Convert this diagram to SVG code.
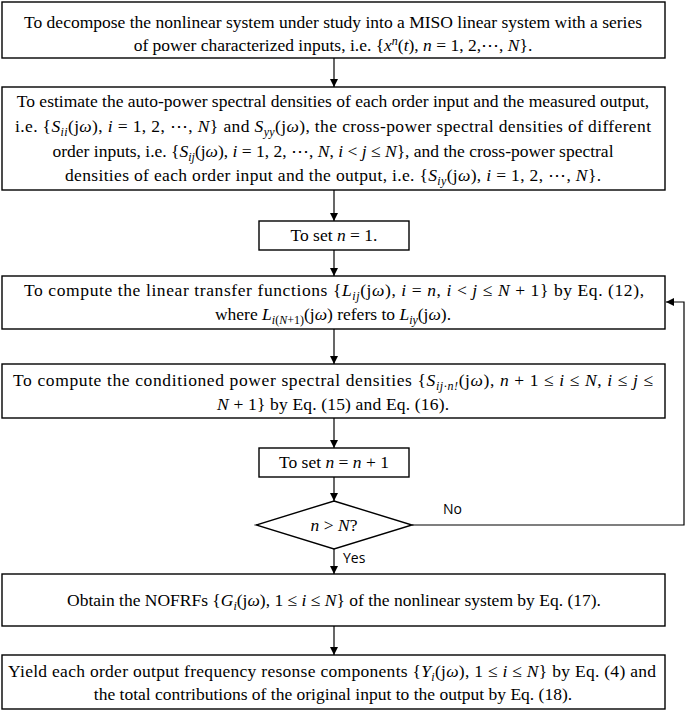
<svg xmlns="http://www.w3.org/2000/svg" width="685" height="711" viewBox="0 0 685 711">
<style>
.box{fill:#fff;stroke:#000;stroke-width:1.4}
.t{font-family:"Liberation Serif","Times New Roman",serif;font-size:17.5px;text-anchor:middle;fill:#000}
.m{font-style:italic}
.s{font-size:12px}
.lab{font-family:"Open Sans","Liberation Sans",sans-serif;font-size:14px;fill:#000}
.c{fill:none;stroke:#000;stroke-width:1.2}
</style>
<defs>
<marker id="ah" viewBox="0 0 10 10" refX="10" refY="5" markerWidth="8" markerHeight="8" markerUnits="userSpaceOnUse" orient="auto">
<path d="M0,0 L10,5 L0,10 z" fill="#000"/>
</marker>
</defs>
<g id="connectors">
<line class="c" x1="334" y1="58" x2="334" y2="87" marker-end="url(#ah)"/>
<line class="c" x1="334" y1="190" x2="334" y2="221" marker-end="url(#ah)"/>
<line class="c" x1="334" y1="250" x2="334" y2="276" marker-end="url(#ah)"/>
<line class="c" x1="334" y1="329" x2="334" y2="364" marker-end="url(#ah)"/>
<line class="c" x1="334" y1="418" x2="334" y2="448" marker-end="url(#ah)"/>
<line class="c" x1="334" y1="477" x2="334" y2="501" marker-end="url(#ah)"/>
<line class="c" x1="334" y1="549" x2="334" y2="574" marker-end="url(#ah)"/>
<line class="c" x1="334" y1="626" x2="334" y2="655" marker-end="url(#ah)"/>
<polyline class="c" points="412,525 684,525 684,302 666,302" marker-end="url(#ah)"/>
<text class="lab" x="443" y="514">No</text>
<text class="lab" x="343" y="563">Yes</text>
</g>
<g id="n1">
<rect class="box" x="2" y="2" width="663" height="56"/>
<text class="t" x="333" y="28">To decompose the nonlinear system under study into a MISO linear system with a series</text>
<text class="t" x="333" y="51">of power characterized inputs, i.e. {<tspan class="m">x</tspan><tspan class="m s" dy="-6">n</tspan><tspan dy="6">(</tspan><tspan class="m">t</tspan>), <tspan class="m">n</tspan> = 1, 2,⋯, <tspan class="m">N</tspan>}.</text>
</g>
<g id="n2">
<rect class="box" x="2" y="87" width="663" height="103"/>
<text class="t" x="333" y="107">To estimate the auto-power spectral densities of each order input and the measured output,</text>
<text class="t" x="333" y="132" textLength="636" lengthAdjust="spacing">i.e. {<tspan class="m">S</tspan><tspan class="m s" dy="4">ii</tspan><tspan dy="-4">(j</tspan><tspan class="m">ω</tspan>), <tspan class="m">i</tspan> = 1, 2, ⋯, <tspan class="m">N</tspan>} and <tspan class="m">S</tspan><tspan class="m s" dy="4">yy</tspan><tspan dy="-4">(j</tspan><tspan class="m">ω</tspan>), the cross-power spectral densities of different</text>
<text class="t" x="333" y="157">order inputs, i.e. {<tspan class="m">S</tspan><tspan class="m s" dy="4">ij</tspan><tspan dy="-4">(j</tspan><tspan class="m">ω</tspan>), <tspan class="m">i</tspan> = 1, 2, ⋯, <tspan class="m">N</tspan>, <tspan class="m">i</tspan> &lt; <tspan class="m">j</tspan> ≤ <tspan class="m">N</tspan>}, and the cross-power spectral</text>
<text class="t" x="333" y="181" textLength="536" lengthAdjust="spacing">densities of each order input and the output, i.e. {<tspan class="m">S</tspan><tspan class="m s" dy="4">iy</tspan><tspan dy="-4">(j</tspan><tspan class="m">ω</tspan>), <tspan class="m">i</tspan> = 1, 2, ⋯, <tspan class="m">N</tspan>}.</text>
</g>
<g id="n3">
<rect class="box" x="259" y="221" width="150" height="29"/>
<text class="t" x="334" y="241">To set <tspan class="m">n</tspan> = 1.</text>
</g>
<g id="n4">
<rect class="box" x="2" y="276" width="663" height="53"/>
<text class="t" x="334" y="296" textLength="620" lengthAdjust="spacing">To compute the linear transfer functions {<tspan class="m">L</tspan><tspan class="m s" dy="4">ij</tspan><tspan dy="-4">(j</tspan><tspan class="m">ω</tspan>),  <tspan class="m">i</tspan> = <tspan class="m">n</tspan>,  <tspan class="m">i</tspan> &lt; <tspan class="m">j</tspan> ≤ <tspan class="m">N</tspan> + 1} by Eq. (12),</text>
<text class="t" x="333" y="320">where <tspan class="m">L</tspan><tspan class="m s" dy="4">i</tspan><tspan class="s">(</tspan><tspan class="m s">N</tspan><tspan class="s">+1)</tspan><tspan dy="-4">(j</tspan><tspan class="m">ω</tspan>) refers to <tspan class="m">L</tspan><tspan class="m s" dy="4">iy</tspan><tspan dy="-4">(j</tspan><tspan class="m">ω</tspan>).</text>
</g>
<g id="n5">
<rect class="box" x="2" y="364" width="663" height="54"/>
<text class="t" x="333" y="386" textLength="640" lengthAdjust="spacing">To compute the conditioned power spectral densities  {<tspan class="m">S</tspan><tspan class="m s" dy="4">ij·n!</tspan><tspan dy="-4">(j</tspan><tspan class="m">ω</tspan>), <tspan class="m">n</tspan> + 1 ≤ <tspan class="m">i</tspan> ≤ <tspan class="m">N</tspan>, <tspan class="m">i</tspan> ≤ <tspan class="m">j</tspan> ≤</text>
<text class="t" x="333" y="410" textLength="232" lengthAdjust="spacing"><tspan class="m">N</tspan> + 1} by Eq. (15) and Eq. (16).</text>
</g>
<g id="n6">
<rect class="box" x="259" y="448" width="150" height="29"/>
<text class="t" x="334" y="468">To set <tspan class="m">n</tspan> = <tspan class="m">n</tspan> + 1</text>
</g>
<g id="n7">
<polygon class="box" points="334,501 412,525 334,549 256,525"/>
<text class="t" x="334" y="531"><tspan class="m">n</tspan> &gt; <tspan class="m">N</tspan>?</text>
</g>
<g id="n8">
<rect class="box" x="2" y="574" width="663" height="52"/>
<text class="t" x="334" y="606">Obtain the NOFRFs {<tspan class="m">G</tspan><tspan class="m s" dy="4">i</tspan><tspan dy="-4">(j</tspan><tspan class="m">ω</tspan>), 1 ≤ <tspan class="m">i</tspan> ≤ <tspan class="m">N</tspan>} of the nonlinear system by Eq. (17).</text>
</g>
<g id="n9">
<rect class="box" x="2" y="655" width="663" height="54"/>
<text class="t" x="332" y="677" textLength="648" lengthAdjust="spacing">Yield each order output frequency resonse components {<tspan class="m">Y</tspan><tspan class="m s" dy="4">i</tspan><tspan dy="-4">(j</tspan><tspan class="m">ω</tspan>), 1 ≤ <tspan class="m">i</tspan> ≤ <tspan class="m">N</tspan>} by Eq. (4) and</text>
<text class="t" x="333" y="700">the total contributions of the original input to the output by Eq. (18).</text>
</g>
</svg>
